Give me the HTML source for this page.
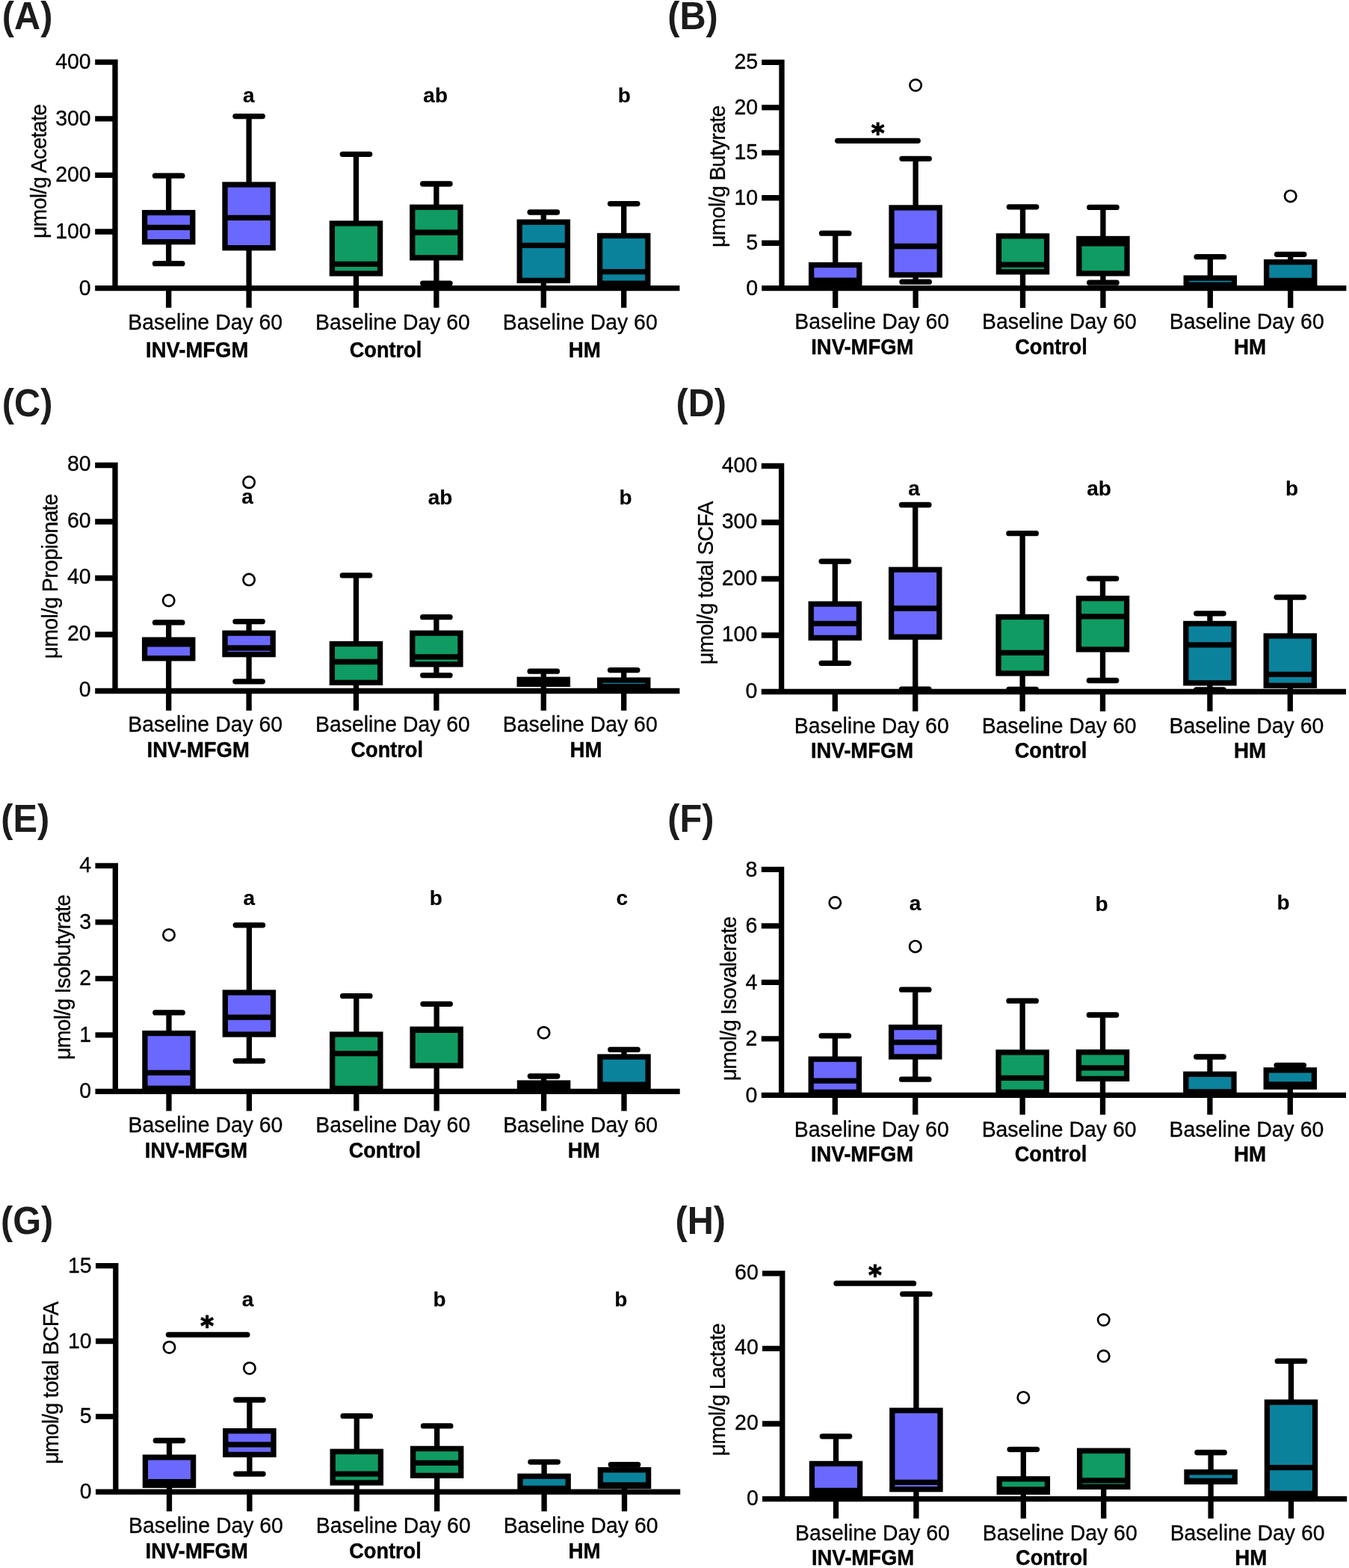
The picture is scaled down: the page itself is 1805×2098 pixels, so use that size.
<!DOCTYPE html>
<html lang="en">
<head>
<meta charset="utf-8">
<title>Faecal short-chain fatty acids and lactate: box plots (A)-(H)</title>
<style>
html,body{margin:0;padding:0;background:#fff}
body{width:1805px;height:2098px;overflow:hidden}
svg{display:block;font-family:"Liberation Sans",Arial,Helvetica,sans-serif}
text{fill:#000;stroke:#000;stroke-width:.3px;stroke-linejoin:round}
.pl{font-weight:700;font-size:51.0px;fill:#1c1c1c;stroke:none}
.t{font-size:28.5px;text-anchor:end}
.x{font-size:28.4px;text-anchor:middle}
.y{font-size:28.5px}
.g{font-weight:700;font-size:28.0px;text-anchor:middle;stroke-width:.4px}
.l{font-weight:700;font-size:28.0px;text-anchor:middle;stroke-width:.15px}
.st{font-family:"DejaVu Sans","Liberation Sans",sans-serif;font-weight:700;font-size:35.0px;text-anchor:middle;stroke:#000;stroke-width:1.2px;stroke-linejoin:miter}
.a{fill:none;stroke:#000;stroke-width:7.3;stroke-linecap:butt}
.w{fill:none;stroke:#000;stroke-width:7.3;stroke-linecap:round}
.wn{fill:none;stroke:#000;stroke-width:7.3;stroke-linecap:butt}
.b{stroke:#000;stroke-width:7.3;stroke-linejoin:miter}
.m{fill:none;stroke:#000;stroke-width:7.3;stroke-linecap:butt}
.o{fill:#fff;stroke:#000;stroke-width:2.7}
</style>
</head>
<body>
<svg width="1805" height="2098" viewBox="0 0 1805 2098">
<rect width="1805" height="2098" fill="#fff"/>
<g class="panel">
<text class="pl" transform="translate(2.83 39.2) scale(0.954 1)">(A)</text>
<g class="bx">
<path class="w" d="M225.7 284.55V235.2M207.5 235.2H243.9"/>
<path class="w" d="M225.7 323.65V352.7M207.5 352.7H243.9"/>
<rect class="b" x="193.6" y="284.55" width="64.2" height="39.1" fill="#6a68ff"/>
<path class="m" d="M193.6 304.4H257.8"/>
</g>
<g class="bx">
<path class="w" d="M333.1 247.05V155.6M314.9 155.6H351.3"/>
<path class="wn" d="M333.1 331.65V385.6"/>
<rect class="b" x="301" y="247.05" width="64.2" height="84.6" fill="#6a68ff"/>
<path class="m" d="M301 291.4H365.2"/>
</g>
<g class="bx">
<path class="w" d="M476.5 298.95V206.3M458.3 206.3H494.7"/>
<path class="wn" d="M476.5 365.95V385.6"/>
<rect class="b" x="444.4" y="298.95" width="64.2" height="67" fill="#0f9b62"/>
<path class="m" d="M444.4 353.3H508.6"/>
</g>
<g class="bx">
<path class="w" d="M583.9 277.25V246M565.7 246H602.1"/>
<path class="w" d="M583.9 344.85V379.1M565.7 379.1H602.1"/>
<rect class="b" x="551.8" y="277.25" width="64.2" height="67.6" fill="#0f9b62"/>
<path class="m" d="M551.8 311H616"/>
</g>
<g class="bx">
<path class="w" d="M727.3 297.15V284M709.1 284H745.5"/>
<path class="wn" d="M727.3 375.35V385.6"/>
<rect class="b" x="695.2" y="297.15" width="64.2" height="78.2" fill="#0b829c"/>
<path class="m" d="M695.2 328.3H759.4"/>
</g>
<g class="bx">
<path class="w" d="M834.7 315.45V272.6M816.5 272.6H852.9"/>
<path class="wn" d="M834.7 379.15V385.6"/>
<rect class="b" x="802.6" y="315.45" width="64.2" height="63.7" fill="#0b829c"/>
<path class="m" d="M802.6 363.7H866.8"/>
</g>
<path class="a" d="M154 79.55V389.25M127.2 385.6H909.4M127.2 310H154M127.2 234.4H154M127.2 158.8H154M127.2 83.2H154M225.7 385.6V411.8M333.1 385.6V411.8M476.5 385.6V411.8M583.9 385.6V411.8M727.3 385.6V411.8M834.7 385.6V411.8"/>
<text class="t" transform="translate(121.7 394.6) scale(1 1.05)">0</text>
<text class="t" transform="translate(121.7 319) scale(1 1.05)">100</text>
<text class="t" transform="translate(121.7 243.4) scale(1 1.05)">200</text>
<text class="t" transform="translate(121.7 167.8) scale(1 1.05)">300</text>
<text class="t" transform="translate(121.7 92.2) scale(1 1.05)">400</text>
<text class="y" transform="translate(61.9 319.12) rotate(-90) scale(1 1.04)" textLength="180.19" lengthAdjust="spacing">μmol/g Acetate</text>
<text class="x" transform="translate(225.7 440.6) scale(1 1.03)">Baseline</text>
<text class="x" transform="translate(333.1 440.6) scale(1 1.03)">Day 60</text>
<text class="x" transform="translate(476.5 440.6) scale(1 1.03)">Baseline</text>
<text class="x" transform="translate(583.9 440.6) scale(1 1.03)">Day 60</text>
<text class="x" transform="translate(727.3 440.6) scale(1 1.03)">Baseline</text>
<text class="x" transform="translate(834.7 440.6) scale(1 1.03)">Day 60</text>
<text class="g" transform="translate(263.7 477.5) scale(0.98 1.06)">INV-MFGM</text>
<text class="g" transform="translate(516 477.5) scale(0.97 1.06)">Control</text>
<text class="g" transform="translate(782.2 477.5) scale(0.99 1.06)">HM</text>
<text class="l" transform="translate(332.8 137.3) scale(1 1.02)">a</text>
<text class="l" transform="translate(582.7 137.2) scale(1 1.02)">ab</text>
<text class="l" transform="translate(835.2 137.2) scale(1 1.02)">b</text>
</g>
<g class="panel">
<text class="pl" transform="translate(893.28 39.2) scale(0.954 1)">(B)</text>
<g class="bx">
<path class="w" d="M1117.7 354.55V312.2M1099.5 312.2H1135.9"/>
<path class="wn" d="M1117.7 380.35V385.7"/>
<rect class="b" x="1085.6" y="354.55" width="64.2" height="25.8" fill="#6a68ff"/>
<path class="m" d="M1085.6 375.1H1149.8"/>
</g>
<g class="bx">
<path class="w" d="M1225.1 277.95V212.3M1206.9 212.3H1243.3"/>
<path class="w" d="M1225.1 367.85V377.2M1206.9 377.2H1243.3"/>
<rect class="b" x="1193" y="277.95" width="64.2" height="89.9" fill="#6a68ff"/>
<path class="m" d="M1193 329.5H1257.2"/>
</g>
<g class="bx">
<path class="w" d="M1368.5 315.85V276.8M1350.3 276.8H1386.7"/>
<path class="wn" d="M1368.5 363.75V385.7"/>
<rect class="b" x="1336.4" y="315.85" width="64.2" height="47.9" fill="#0f9b62"/>
<path class="m" d="M1336.4 354.2H1400.6"/>
</g>
<g class="bx">
<path class="w" d="M1475.9 319.45V277.4M1457.7 277.4H1494.1"/>
<path class="w" d="M1475.9 365.85V378.2M1457.7 378.2H1494.1"/>
<rect class="b" x="1443.8" y="319.45" width="64.2" height="46.4" fill="#0f9b62"/>
<path class="m" d="M1443.8 325.9H1508"/>
</g>
<g class="bx">
<path class="w" d="M1619.3 372.05V343.7M1601.1 343.7H1637.5"/>
<path class="wn" d="M1619.3 381.35V385.7"/>
<rect class="b" x="1587.2" y="372.05" width="64.2" height="9.3" fill="#0b829c"/>
<path class="m" d="M1587.2 381.4H1651.4"/>
</g>
<g class="bx">
<path class="w" d="M1726.7 350.65V340.3M1708.5 340.3H1744.9"/>
<path class="wn" d="M1726.7 381.35V385.7"/>
<rect class="b" x="1694.6" y="350.65" width="64.2" height="30.7" fill="#0b829c"/>
<path class="m" d="M1694.6 375.4H1758.8"/>
</g>
<circle class="o" cx="1225.1" cy="114" r="7.65"/>
<circle class="o" cx="1726.7" cy="262.4" r="7.65"/>
<path class="w" d="M1120.7 188.3H1228.2"/>
<text class="st" transform="translate(1174.6 190.32) scale(0.97 1.03)">*</text>
<path class="a" d="M1046 79.7V389.35M1019.2 385.7H1801.4M1019.2 325.23H1046M1019.2 264.76H1046M1019.2 204.29H1046M1019.2 143.82H1046M1019.2 83.35H1046M1117.7 385.7V411.9M1225.1 385.7V411.9M1368.5 385.7V411.9M1475.9 385.7V411.9M1619.3 385.7V411.9M1726.7 385.7V411.9"/>
<text class="t" transform="translate(1014.1 394.7) scale(1 1.05)">0</text>
<text class="t" transform="translate(1014.1 334.23) scale(1 1.05)">5</text>
<text class="t" transform="translate(1014.1 273.76) scale(1 1.05)">10</text>
<text class="t" transform="translate(1014.1 213.29) scale(1 1.05)">15</text>
<text class="t" transform="translate(1014.1 152.82) scale(1 1.05)">20</text>
<text class="t" transform="translate(1014.1 92.35) scale(1 1.05)">25</text>
<text class="y" transform="translate(969.6 330.92) rotate(-90) scale(1 1.04)" textLength="190.29" lengthAdjust="spacing">μmol/g Butyrate</text>
<text class="x" transform="translate(1117.7 440.4) scale(1 1.03)">Baseline</text>
<text class="x" transform="translate(1225.1 440.4) scale(1 1.03)">Day 60</text>
<text class="x" transform="translate(1368.5 440.4) scale(1 1.03)">Baseline</text>
<text class="x" transform="translate(1475.9 440.4) scale(1 1.03)">Day 60</text>
<text class="x" transform="translate(1619.3 440.4) scale(1 1.03)">Baseline</text>
<text class="x" transform="translate(1726.7 440.4) scale(1 1.03)">Day 60</text>
<text class="g" transform="translate(1153.8 474.1) scale(0.98 1.06)">INV-MFGM</text>
<text class="g" transform="translate(1406.5 474.1) scale(0.97 1.06)">Control</text>
<text class="g" transform="translate(1672.6 474.1) scale(0.99 1.06)">HM</text>
</g>
<g class="panel">
<text class="pl" transform="translate(2.83 556.7) scale(0.954 1)">(C)</text>
<g class="bx">
<path class="w" d="M225.7 856.15V832.9M207.5 832.9H243.9"/>
<path class="wn" d="M225.7 880.85V924.5"/>
<rect class="b" x="193.6" y="856.15" width="64.2" height="24.7" fill="#6a68ff"/>
<path class="m" d="M193.6 861.8H257.8"/>
</g>
<g class="bx">
<path class="w" d="M333.1 847.15V831.6M314.9 831.6H351.3"/>
<path class="w" d="M333.1 875.65V911.8M314.9 911.8H351.3"/>
<rect class="b" x="301" y="847.15" width="64.2" height="28.5" fill="#6a68ff"/>
<path class="m" d="M301 867H365.2"/>
</g>
<g class="bx">
<path class="w" d="M476.5 861.55V769.9M458.3 769.9H494.7"/>
<path class="wn" d="M476.5 913.35V924.5"/>
<rect class="b" x="444.4" y="861.55" width="64.2" height="51.8" fill="#0f9b62"/>
<path class="m" d="M444.4 885.5H508.6"/>
</g>
<g class="bx">
<path class="w" d="M583.9 847.15V825.7M565.7 825.7H602.1"/>
<path class="w" d="M583.9 888.85V903.6M565.7 903.6H602.1"/>
<rect class="b" x="551.8" y="847.15" width="64.2" height="41.7" fill="#0f9b62"/>
<path class="m" d="M551.8 878.8H616"/>
</g>
<g class="bx">
<path class="w" d="M727.3 909.25V898.2M709.1 898.2H745.5"/>
<path class="wn" d="M727.3 915.35V924.5"/>
<rect class="b" x="695.2" y="909.25" width="64.2" height="6.1" fill="#0b829c"/>
<path class="m" d="M695.2 912H759.4"/>
</g>
<g class="bx">
<path class="w" d="M834.7 910.05V896.6M816.5 896.6H852.9"/>
<path class="wn" d="M834.7 919.35V924.5"/>
<rect class="b" x="802.6" y="910.05" width="64.2" height="9.3" fill="#0b829c"/>
<path class="m" d="M802.6 918.6H866.8"/>
</g>
<circle class="o" cx="225.7" cy="803.5" r="7.65"/>
<circle class="o" cx="333.1" cy="645.3" r="7.65"/>
<circle class="o" cx="333.1" cy="775.6" r="7.65"/>
<path class="a" d="M154 618.85V928.15M127.2 924.5H909.4M127.2 849H154M127.2 773.5H154M127.2 698H154M127.2 622.5H154M225.7 924.5V950.7M333.1 924.5V950.7M476.5 924.5V950.7M583.9 924.5V950.7M727.3 924.5V950.7M834.7 924.5V950.7"/>
<text class="t" transform="translate(121.7 932.4) scale(1 1.05)">0</text>
<text class="t" transform="translate(121.7 856.9) scale(1 1.05)">20</text>
<text class="t" transform="translate(121.7 781.4) scale(1 1.05)">40</text>
<text class="t" transform="translate(121.7 705.9) scale(1 1.05)">60</text>
<text class="t" transform="translate(121.7 630.4) scale(1 1.05)">80</text>
<text class="y" transform="translate(77.1 881.52) rotate(-90) scale(1 1.04)" textLength="221.19" lengthAdjust="spacing">μmol/g Propionate</text>
<text class="x" transform="translate(225.7 978.9) scale(1 1.03)">Baseline</text>
<text class="x" transform="translate(333.1 978.9) scale(1 1.03)">Day 60</text>
<text class="x" transform="translate(476.5 978.9) scale(1 1.03)">Baseline</text>
<text class="x" transform="translate(583.9 978.9) scale(1 1.03)">Day 60</text>
<text class="x" transform="translate(727.3 978.9) scale(1 1.03)">Baseline</text>
<text class="x" transform="translate(834.7 978.9) scale(1 1.03)">Day 60</text>
<text class="g" transform="translate(265.2 1012.9) scale(0.98 1.06)">INV-MFGM</text>
<text class="g" transform="translate(517.7 1012.9) scale(0.97 1.06)">Control</text>
<text class="g" transform="translate(784 1012.9) scale(0.99 1.06)">HM</text>
<text class="l" transform="translate(331 674.4) scale(1 1.02)">a</text>
<text class="l" transform="translate(589 675.2) scale(1 1.02)">ab</text>
<text class="l" transform="translate(837 675.2) scale(1 1.02)">b</text>
</g>
<g class="panel">
<text class="pl" transform="translate(904.53 556.7) scale(0.954 1)">(D)</text>
<g class="bx">
<path class="w" d="M1117.3 808.15V751.1M1099.1 751.1H1135.5"/>
<path class="w" d="M1117.3 853.45V887.3M1099.1 887.3H1135.5"/>
<rect class="b" x="1085.2" y="808.15" width="64.2" height="45.3" fill="#6a68ff"/>
<path class="m" d="M1085.2 834.4H1149.4"/>
</g>
<g class="bx">
<path class="w" d="M1224.7 762.25V675.5M1206.5 675.5H1242.9"/>
<path class="w" d="M1224.7 852.25V922.2M1206.5 922.2H1242.9"/>
<rect class="b" x="1192.6" y="762.25" width="64.2" height="90" fill="#6a68ff"/>
<path class="m" d="M1192.6 814H1256.8"/>
</g>
<g class="bx">
<path class="w" d="M1368.1 825.45V713.7M1349.9 713.7H1386.3"/>
<path class="w" d="M1368.1 900.95V922.5M1349.9 922.5H1386.3"/>
<rect class="b" x="1336" y="825.45" width="64.2" height="75.5" fill="#0f9b62"/>
<path class="m" d="M1336 873.4H1400.2"/>
</g>
<g class="bx">
<path class="w" d="M1475.5 800.65V774.1M1457.3 774.1H1493.7"/>
<path class="w" d="M1475.5 868.95V910.5M1457.3 910.5H1493.7"/>
<rect class="b" x="1443.4" y="800.65" width="64.2" height="68.3" fill="#0f9b62"/>
<path class="m" d="M1443.4 824.9H1507.6"/>
</g>
<g class="bx">
<path class="w" d="M1618.9 834.45V820.8M1600.7 820.8H1637.1"/>
<path class="w" d="M1618.9 913.85V923M1600.7 923H1637.1"/>
<rect class="b" x="1586.8" y="834.45" width="64.2" height="79.4" fill="#0b829c"/>
<path class="m" d="M1586.8 862.8H1651"/>
</g>
<g class="bx">
<path class="w" d="M1726.3 850.95V799.1M1708.1 799.1H1744.5"/>
<path class="wn" d="M1726.3 917.25V925.5"/>
<rect class="b" x="1694.2" y="850.95" width="64.2" height="66.3" fill="#0b829c"/>
<path class="m" d="M1694.2 902.3H1758.4"/>
</g>
<path class="a" d="M1045.6 619.85V929.15M1018.8 925.5H1801M1018.8 850H1045.6M1018.8 774.5H1045.6M1018.8 699H1045.6M1018.8 623.5H1045.6M1117.3 925.5V951.7M1224.7 925.5V951.7M1368.1 925.5V951.7M1475.5 925.5V951.7M1618.9 925.5V951.7M1726.3 925.5V951.7"/>
<text class="t" transform="translate(1013.3 933.6) scale(1 1.05)">0</text>
<text class="t" transform="translate(1013.3 858.1) scale(1 1.05)">100</text>
<text class="t" transform="translate(1013.3 782.6) scale(1 1.05)">200</text>
<text class="t" transform="translate(1013.3 707.1) scale(1 1.05)">300</text>
<text class="t" transform="translate(1013.3 631.6) scale(1 1.05)">400</text>
<text class="y" transform="translate(953.6 889.22) rotate(-90) scale(1 1.04)" textLength="218.68" lengthAdjust="spacing">μmol/g total SCFA</text>
<text class="x" transform="translate(1117.3 980.7) scale(1 1.03)">Baseline</text>
<text class="x" transform="translate(1224.7 980.7) scale(1 1.03)">Day 60</text>
<text class="x" transform="translate(1368.1 980.7) scale(1 1.03)">Baseline</text>
<text class="x" transform="translate(1475.5 980.7) scale(1 1.03)">Day 60</text>
<text class="x" transform="translate(1618.9 980.7) scale(1 1.03)">Baseline</text>
<text class="x" transform="translate(1726.3 980.7) scale(1 1.03)">Day 60</text>
<text class="g" transform="translate(1153.5 1014.4) scale(0.98 1.06)">INV-MFGM</text>
<text class="g" transform="translate(1406 1014.4) scale(0.97 1.06)">Control</text>
<text class="g" transform="translate(1672.6 1014.4) scale(0.99 1.06)">HM</text>
<text class="l" transform="translate(1223.1 663.1) scale(1 1.02)">a</text>
<text class="l" transform="translate(1470.6 663.1) scale(1 1.02)">ab</text>
<text class="l" transform="translate(1728.6 663.1) scale(1 1.02)">b</text>
</g>
<g class="panel">
<text class="pl" transform="translate(1.33 1112.5) scale(0.954 1)">(E)</text>
<g class="bx">
<path class="w" d="M226 1382.55V1354.9M207.8 1354.9H244.2"/>
<path class="wn" d="M226 1456.25V1460.4"/>
<rect class="b" x="193.9" y="1382.55" width="64.2" height="73.7" fill="#6a68ff"/>
<path class="m" d="M193.9 1435.4H258.1"/>
</g>
<g class="bx">
<path class="w" d="M333.4 1328.05V1237.8M315.2 1237.8H351.6"/>
<path class="w" d="M333.4 1384.05V1419.6M315.2 1419.6H351.6"/>
<rect class="b" x="301.3" y="1328.05" width="64.2" height="56" fill="#6a68ff"/>
<path class="m" d="M301.3 1361.1H365.5"/>
</g>
<g class="bx">
<path class="w" d="M476.8 1384.05V1332.7M458.6 1332.7H495"/>
<path class="wn" d="M476.8 1456.35V1460.4"/>
<rect class="b" x="444.7" y="1384.05" width="64.2" height="72.3" fill="#0f9b62"/>
<path class="m" d="M444.7 1409.6H508.9"/>
</g>
<g class="bx">
<path class="w" d="M584.2 1377.15V1343.3M566 1343.3H602.4"/>
<path class="wn" d="M584.2 1425.85V1460.4"/>
<rect class="b" x="552.1" y="1377.15" width="64.2" height="48.7" fill="#0f9b62"/>
<path class="m" d="M552.1 1378.4H616.3"/>
</g>
<g class="bx">
<path class="w" d="M727.6 1449.05V1440M709.4 1440H745.8"/>
<path class="wn" d="M727.6 1456.35V1460.4"/>
<rect class="b" x="695.5" y="1449.05" width="64.2" height="7.3" fill="#0b829c"/>
<path class="m" d="M695.5 1453H759.7"/>
</g>
<g class="bx">
<path class="w" d="M835 1414.05V1404.4M816.8 1404.4H853.2"/>
<path class="wn" d="M835 1456.35V1460.4"/>
<rect class="b" x="802.9" y="1414.05" width="64.2" height="42.3" fill="#0b829c"/>
<path class="m" d="M802.9 1451.1H867.1"/>
</g>
<circle class="o" cx="226" cy="1250.9" r="7.65"/>
<circle class="o" cx="727.6" cy="1381.7" r="7.65"/>
<path class="a" d="M154.3 1154.75V1464.05M127.5 1460.4H909.7M127.5 1384.9H154.3M127.5 1309.4H154.3M127.5 1233.9H154.3M127.5 1158.4H154.3M226 1460.4V1486.6M333.4 1460.4V1486.6M476.8 1460.4V1486.6M584.2 1460.4V1486.6M727.6 1460.4V1486.6M835 1460.4V1486.6"/>
<text class="t" transform="translate(122 1469.4) scale(1 1.05)">0</text>
<text class="t" transform="translate(122 1393.9) scale(1 1.05)">1</text>
<text class="t" transform="translate(122 1318.4) scale(1 1.05)">2</text>
<text class="t" transform="translate(122 1242.9) scale(1 1.05)">3</text>
<text class="t" transform="translate(122 1167.4) scale(1 1.05)">4</text>
<text class="y" transform="translate(93.8 1417.92) rotate(-90) scale(1 1.04)" textLength="221.19" lengthAdjust="spacing">μmol/g Isobutyrate</text>
<text class="x" transform="translate(226 1515.4) scale(1 1.03)">Baseline</text>
<text class="x" transform="translate(333.4 1515.4) scale(1 1.03)">Day 60</text>
<text class="x" transform="translate(476.8 1515.4) scale(1 1.03)">Baseline</text>
<text class="x" transform="translate(584.2 1515.4) scale(1 1.03)">Day 60</text>
<text class="x" transform="translate(727.6 1515.4) scale(1 1.03)">Baseline</text>
<text class="x" transform="translate(835 1515.4) scale(1 1.03)">Day 60</text>
<text class="g" transform="translate(262.4 1548.8) scale(0.98 1.06)">INV-MFGM</text>
<text class="g" transform="translate(514.9 1548.8) scale(0.97 1.06)">Control</text>
<text class="g" transform="translate(781.2 1548.8) scale(0.99 1.06)">HM</text>
<text class="l" transform="translate(333.3 1211.4) scale(1 1.02)">a</text>
<text class="l" transform="translate(583.4 1211.4) scale(1 1.02)">b</text>
<text class="l" transform="translate(832.4 1211.4) scale(1 1.02)">c</text>
</g>
<g class="panel">
<text class="pl" transform="translate(893.33 1112.5) scale(0.954 1)">(F)</text>
<g class="bx">
<path class="w" d="M1117.3 1417.15V1385.9M1099.1 1385.9H1135.5"/>
<path class="wn" d="M1117.3 1461.35V1465.3"/>
<rect class="b" x="1085.2" y="1417.15" width="64.2" height="44.2" fill="#6a68ff"/>
<path class="m" d="M1085.2 1446.2H1149.4"/>
</g>
<g class="bx">
<path class="w" d="M1224.7 1374.55V1324.2M1206.5 1324.2H1242.9"/>
<path class="w" d="M1224.7 1413.95V1444.2M1206.5 1444.2H1242.9"/>
<rect class="b" x="1192.6" y="1374.55" width="64.2" height="39.4" fill="#6a68ff"/>
<path class="m" d="M1192.6 1394.6H1256.8"/>
</g>
<g class="bx">
<path class="w" d="M1368.1 1408.05V1339.2M1349.9 1339.2H1386.3"/>
<path class="wn" d="M1368.1 1461.35V1465.3"/>
<rect class="b" x="1336" y="1408.05" width="64.2" height="53.3" fill="#0f9b62"/>
<path class="m" d="M1336 1442.4H1400.2"/>
</g>
<g class="bx">
<path class="w" d="M1475.5 1407.85V1358M1457.3 1358H1493.7"/>
<path class="wn" d="M1475.5 1443.35V1465.3"/>
<rect class="b" x="1443.4" y="1407.85" width="64.2" height="35.5" fill="#0f9b62"/>
<path class="m" d="M1443.4 1428.9H1507.6"/>
</g>
<g class="bx">
<path class="w" d="M1618.9 1437.25V1414M1600.7 1414H1637.1"/>
<path class="wn" d="M1618.9 1461.35V1465.3"/>
<rect class="b" x="1586.8" y="1437.25" width="64.2" height="24.1" fill="#0b829c"/>
<path class="m" d="M1586.8 1461H1651"/>
</g>
<g class="bx">
<path class="w" d="M1726.3 1431.85V1425.3M1708.1 1425.3H1744.5"/>
<path class="wn" d="M1726.3 1454.15V1465.3"/>
<rect class="b" x="1694.2" y="1431.85" width="64.2" height="22.3" fill="#0b829c"/>
<path class="m" d="M1694.2 1451H1758.4"/>
</g>
<circle class="o" cx="1117.3" cy="1207.8" r="7.65"/>
<circle class="o" cx="1224.7" cy="1266.4" r="7.65"/>
<path class="a" d="M1045.6 1159.65V1468.95M1018.8 1465.3H1801M1018.8 1389.8H1045.6M1018.8 1314.3H1045.6M1018.8 1238.8H1045.6M1018.8 1163.3H1045.6M1117.3 1465.3V1491.5M1224.7 1465.3V1491.5M1368.1 1465.3V1491.5M1475.5 1465.3V1491.5M1618.9 1465.3V1491.5M1726.3 1465.3V1491.5"/>
<text class="t" transform="translate(1013.4 1474.6) scale(1 1.05)">0</text>
<text class="t" transform="translate(1013.4 1399.1) scale(1 1.05)">2</text>
<text class="t" transform="translate(1013.4 1323.6) scale(1 1.05)">4</text>
<text class="t" transform="translate(1013.4 1248.1) scale(1 1.05)">6</text>
<text class="t" transform="translate(1013.4 1172.6) scale(1 1.05)">8</text>
<text class="y" transform="translate(984.5 1446.32) rotate(-90) scale(1 1.04)" textLength="220.39" lengthAdjust="spacing">μmol/g Isovalerate</text>
<text class="x" transform="translate(1117.3 1520.5) scale(1 1.03)">Baseline</text>
<text class="x" transform="translate(1224.7 1520.5) scale(1 1.03)">Day 60</text>
<text class="x" transform="translate(1368.1 1520.5) scale(1 1.03)">Baseline</text>
<text class="x" transform="translate(1475.5 1520.5) scale(1 1.03)">Day 60</text>
<text class="x" transform="translate(1618.9 1520.5) scale(1 1.03)">Baseline</text>
<text class="x" transform="translate(1726.3 1520.5) scale(1 1.03)">Day 60</text>
<text class="g" transform="translate(1153.5 1553.9) scale(0.98 1.06)">INV-MFGM</text>
<text class="g" transform="translate(1406 1553.9) scale(0.97 1.06)">Control</text>
<text class="g" transform="translate(1672.6 1553.9) scale(0.99 1.06)">HM</text>
<text class="l" transform="translate(1224.6 1218.2) scale(1 1.02)">a</text>
<text class="l" transform="translate(1474 1218.7) scale(1 1.02)">b</text>
<text class="l" transform="translate(1717 1216.6) scale(1 1.02)">b</text>
</g>
<g class="panel">
<text class="pl" transform="translate(1.03 1650.5) scale(0.954 1)">(G)</text>
<g class="bx">
<path class="w" d="M226.5 1949.95V1927.5M208.3 1927.5H244.7"/>
<path class="wn" d="M226.5 1987.25V1996.1"/>
<rect class="b" x="194.4" y="1949.95" width="64.2" height="37.3" fill="#6a68ff"/>
<path class="m" d="M194.4 1982.7H258.6"/>
</g>
<g class="bx">
<path class="w" d="M333.9 1914.65V1873M315.7 1873H352.1"/>
<path class="w" d="M333.9 1946.25V1972.1M315.7 1972.1H352.1"/>
<rect class="b" x="301.8" y="1914.65" width="64.2" height="31.6" fill="#6a68ff"/>
<path class="m" d="M301.8 1932.9H366"/>
</g>
<g class="bx">
<path class="w" d="M477.3 1942.25V1894.7M459.1 1894.7H495.5"/>
<path class="wn" d="M477.3 1983.95V1996.1"/>
<rect class="b" x="445.2" y="1942.25" width="64.2" height="41.7" fill="#0f9b62"/>
<path class="m" d="M445.2 1972.1H509.4"/>
</g>
<g class="bx">
<path class="w" d="M584.7 1938.35V1907.9M566.5 1907.9H602.9"/>
<path class="wn" d="M584.7 1974.35V1996.1"/>
<rect class="b" x="552.6" y="1938.35" width="64.2" height="36" fill="#0f9b62"/>
<path class="m" d="M552.6 1957.4H616.8"/>
</g>
<g class="bx">
<path class="w" d="M728.1 1975.25V1956.1M709.9 1956.1H746.3"/>
<path class="wn" d="M728.1 1992.35V1996.1"/>
<rect class="b" x="696" y="1975.25" width="64.2" height="17.1" fill="#0b829c"/>
<path class="m" d="M696 1991.5H760.2"/>
</g>
<g class="bx">
<path class="w" d="M835.5 1966.75V1959.7M817.3 1959.7H853.7"/>
<path class="wn" d="M835.5 1988.35V1996.1"/>
<rect class="b" x="803.4" y="1966.75" width="64.2" height="21.6" fill="#0b829c"/>
<path class="m" d="M803.4 1987H867.6"/>
</g>
<circle class="o" cx="226.5" cy="1802.7" r="7.65"/>
<circle class="o" cx="333.9" cy="1830.7" r="7.65"/>
<path class="w" d="M225.4 1785.8H330.9"/>
<text class="st" transform="translate(277.1 1785.67) scale(0.97 1.03)">*</text>
<path class="a" d="M154.8 1690.05V1999.75M128 1996.1H910.2M128 1895.3H154.8M128 1794.5H154.8M128 1693.7H154.8M226.5 1996.1V2022.3M333.9 1996.1V2022.3M477.3 1996.1V2022.3M584.7 1996.1V2022.3M728.1 1996.1V2022.3M835.5 1996.1V2022.3"/>
<text class="t" transform="translate(122.6 2005.1) scale(1 1.05)">0</text>
<text class="t" transform="translate(122.6 1904.3) scale(1 1.05)">5</text>
<text class="t" transform="translate(122.6 1803.5) scale(1 1.05)">10</text>
<text class="t" transform="translate(122.6 1702.7) scale(1 1.05)">15</text>
<text class="y" transform="translate(78.3 1959.02) rotate(-90) scale(1 1.04)" textLength="217.88" lengthAdjust="spacing">μmol/g total BCFA</text>
<text class="x" transform="translate(226.5 2051.3) scale(1 1.03)">Baseline</text>
<text class="x" transform="translate(333.9 2051.3) scale(1 1.03)">Day 60</text>
<text class="x" transform="translate(477.3 2051.3) scale(1 1.03)">Baseline</text>
<text class="x" transform="translate(584.7 2051.3) scale(1 1.03)">Day 60</text>
<text class="x" transform="translate(728.1 2051.3) scale(1 1.03)">Baseline</text>
<text class="x" transform="translate(835.5 2051.3) scale(1 1.03)">Day 60</text>
<text class="g" transform="translate(263.2 2084.7) scale(0.98 1.06)">INV-MFGM</text>
<text class="g" transform="translate(515.5 2084.7) scale(0.97 1.06)">Control</text>
<text class="g" transform="translate(782 2084.7) scale(0.99 1.06)">HM</text>
<text class="l" transform="translate(331.5 1747.9) scale(1 1.02)">a</text>
<text class="l" transform="translate(588 1747.9) scale(1 1.02)">b</text>
<text class="l" transform="translate(830.8 1747.9) scale(1 1.02)">b</text>
</g>
<g class="panel">
<text class="pl" transform="translate(903.43 1650.5) scale(0.954 1)">(H)</text>
<g class="bx">
<path class="w" d="M1118.5 1958.45V1921.8M1100.3 1921.8H1136.7"/>
<path class="wn" d="M1118.5 2001.35V2005.6"/>
<rect class="b" x="1086.4" y="1958.45" width="64.2" height="42.9" fill="#6a68ff"/>
<path class="m" d="M1086.4 1994.3H1150.6"/>
</g>
<g class="bx">
<path class="w" d="M1225.9 1887.25V1731.4M1207.7 1731.4H1244.1"/>
<path class="wn" d="M1225.9 1992.65V2005.6"/>
<rect class="b" x="1193.8" y="1887.25" width="64.2" height="105.4" fill="#6a68ff"/>
<path class="m" d="M1193.8 1983.4H1258"/>
</g>
<g class="bx">
<path class="w" d="M1369.3 1978.85V1939.3M1351.1 1939.3H1387.5"/>
<path class="wn" d="M1369.3 1996.25V2005.6"/>
<rect class="b" x="1337.2" y="1978.85" width="64.2" height="17.4" fill="#0f9b62"/>
<path class="m" d="M1337.2 1993H1401.4"/>
</g>
<g class="bx">
<path class="wn" d="M1476.7 1989.35V2005.6"/>
<rect class="b" x="1444.6" y="1941.15" width="64.2" height="48.2" fill="#0f9b62"/>
<path class="m" d="M1444.6 1980.9H1508.8"/>
</g>
<g class="bx">
<path class="w" d="M1620.1 1969.75V1943.5M1601.9 1943.5H1638.3"/>
<path class="wn" d="M1620.1 1982.55V2005.6"/>
<rect class="b" x="1588" y="1969.75" width="64.2" height="12.8" fill="#0b829c"/>
<path class="m" d="M1588 1981.4H1652.2"/>
</g>
<g class="bx">
<path class="w" d="M1727.5 1876.15V1821.2M1709.3 1821.2H1745.7"/>
<path class="wn" d="M1727.5 1998.35V2005.6"/>
<rect class="b" x="1695.4" y="1876.15" width="64.2" height="122.2" fill="#0b829c"/>
<path class="m" d="M1695.4 1963.6H1759.6"/>
</g>
<circle class="o" cx="1369.3" cy="1869.9" r="7.65"/>
<circle class="o" cx="1476.7" cy="1766" r="7.65"/>
<circle class="o" cx="1476.7" cy="1814.5" r="7.65"/>
<path class="w" d="M1119 1717.2H1222.5"/>
<text class="st" transform="translate(1171 1717.67) scale(0.97 1.03)">*</text>
<path class="a" d="M1046.8 1700.15V2009.25M1020 2005.6H1802.2M1020 1905H1046.8M1020 1804.4H1046.8M1020 1703.8H1046.8M1118.5 2005.6V2031.8M1225.9 2005.6V2031.8M1369.3 2005.6V2031.8M1476.7 2005.6V2031.8M1620.1 2005.6V2031.8M1727.5 2005.6V2031.8"/>
<text class="t" transform="translate(1014.8 2013.6) scale(1 1.05)">0</text>
<text class="t" transform="translate(1014.8 1913) scale(1 1.05)">20</text>
<text class="t" transform="translate(1014.8 1812.4) scale(1 1.05)">40</text>
<text class="t" transform="translate(1014.8 1711.8) scale(1 1.05)">60</text>
<text class="y" transform="translate(969.6 1948.22) rotate(-90) scale(1 1.04)" textLength="178.09" lengthAdjust="spacing">μmol/g Lactate</text>
<text class="x" transform="translate(1118.5 2061.1) scale(1 1.03)">Baseline</text>
<text class="x" transform="translate(1225.9 2061.1) scale(1 1.03)">Day 60</text>
<text class="x" transform="translate(1369.3 2061.1) scale(1 1.03)">Baseline</text>
<text class="x" transform="translate(1476.7 2061.1) scale(1 1.03)">Day 60</text>
<text class="x" transform="translate(1620.1 2061.1) scale(1 1.03)">Baseline</text>
<text class="x" transform="translate(1727.5 2061.1) scale(1 1.03)">Day 60</text>
<text class="g" transform="translate(1154.5 2093.8) scale(0.98 1.06)">INV-MFGM</text>
<text class="g" transform="translate(1407.3 2093.8) scale(0.97 1.06)">Control</text>
<text class="g" transform="translate(1673.7 2093.8) scale(0.99 1.06)">HM</text>
</g>
</svg>
</body>
</html>
